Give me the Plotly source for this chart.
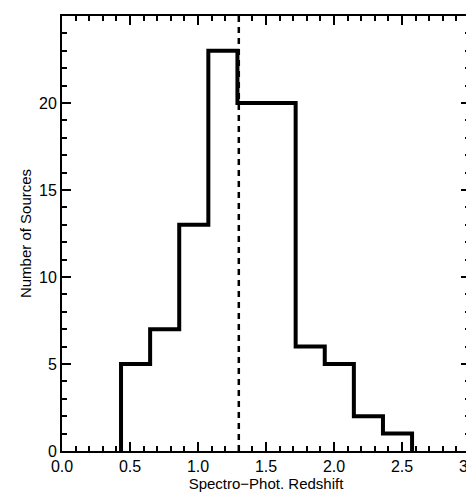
import plotly.graph_objects as go

bin_start = 0.434
bin_width = 0.214
counts = [5, 7, 13, 23, 20, 20, 6, 5, 2, 1]
median_z = 1.30

edges = [bin_start + i * bin_width for i in range(len(counts) + 1)]
# step outline: rise from 0, step through counts, drop to 0
xs = [edges[0]] + edges
ys = [0] + counts + [counts[-1]]
xs.append(edges[-1])
ys.append(0)

fig = go.Figure()
fig.add_trace(go.Scatter(x=xs, y=ys, mode="lines", line=dict(color="black", width=4, shape="hv"),
                         hoverinfo="skip"))
fig.add_trace(go.Scatter(x=[median_z, median_z], y=[0, 25], mode="lines",
                         line=dict(color="black", width=2.5, dash="6px,5px")))

ax = dict(showgrid=False, zeroline=False, showline=True, linecolor="black", linewidth=2,
          mirror="ticks", ticks="inside", tickcolor="black", tickwidth=1.5, ticklen=9,
          tickfont=dict(size=16, color="black"), automargin=False)
fig.update_xaxes(**ax, range=[0, 3.0], tickvals=[0, 0.5, 1.0, 1.5, 2.0, 2.5, 3.0],
                 ticktext=["0.0", "0.5", "1.0", "1.5", "2.0", "2.5", "3.0"],
                 minor=dict(dtick=0.1, ticks="inside", ticklen=5, tickcolor="black", tickwidth=1.5),
                 title=dict(text="Spectro−Phot. Redshift", font=dict(size=15, color="black"), standoff=2))
fig.update_yaxes(**ax, range=[0, 25], dtick=5,
                 minor=dict(dtick=1, ticks="inside", ticklen=5, tickcolor="black", tickwidth=1.5),
                 title=dict(text="Number of Sources", font=dict(size=15, color="black"), standoff=4))
fig.update_layout(width=474, height=496, showlegend=False, plot_bgcolor="white", paper_bgcolor="white",
                  font=dict(family="Liberation Sans"),
                  margin=dict(l=54, r=12, t=8, b=53, autoexpand=False))
fig.write_html("out.html")
